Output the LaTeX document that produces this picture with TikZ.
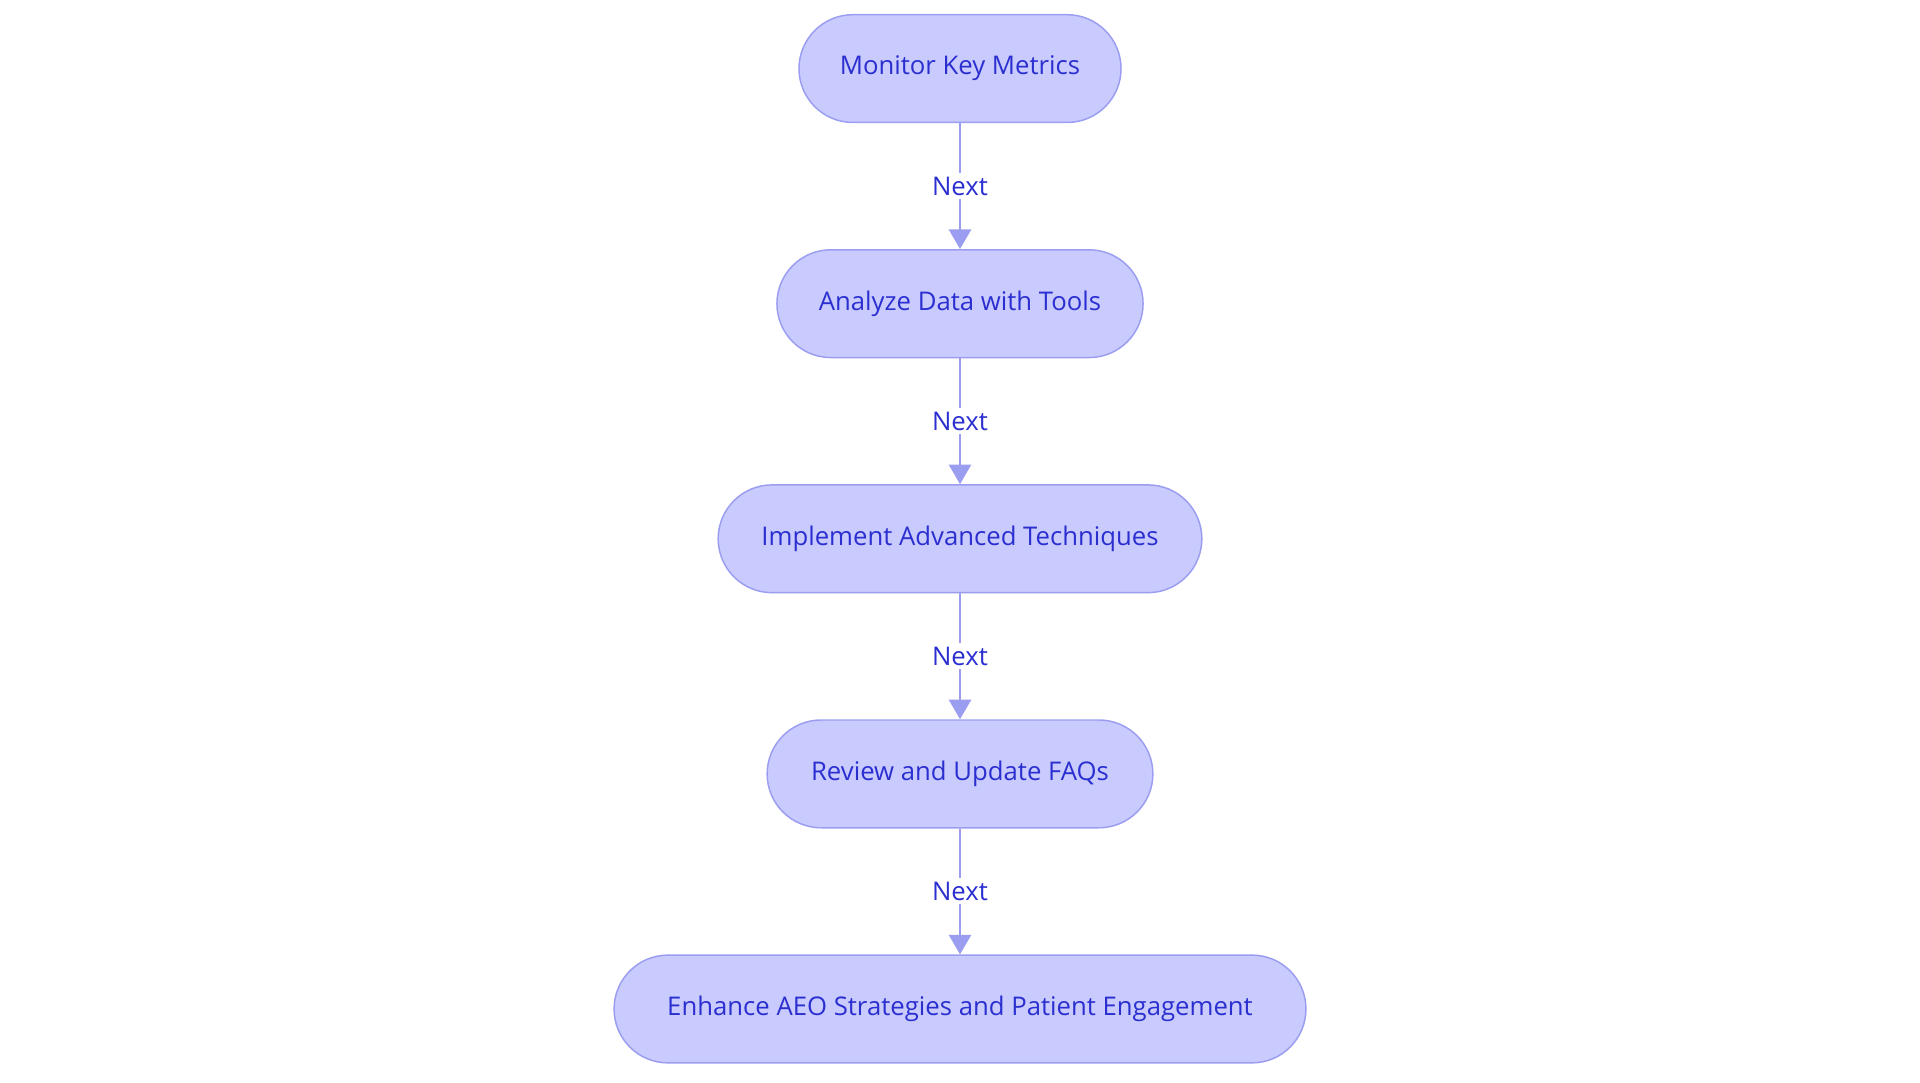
\documentclass[tikz,border=0pt]{standalone}
\usepackage{fontspec}
\setmainfont{Open Sans}
\usetikzlibrary{arrows.meta}
\definecolor{boxfill}{HTML}{C9CBFE}
\definecolor{boxline}{HTML}{9A9DF0}
\definecolor{txt}{HTML}{2B2FD0}
\begin{document}
\begin{tikzpicture}[x=1pt,y=1pt,
  stage/.style={draw=boxline, fill=boxfill, text=txt, rounded corners=22pt,
    minimum height=44pt, inner sep=0pt, font=\fontsize{10.5}{12}\selectfont, line width=0.6pt},
  flow/.style={draw=boxline, line width=1.1pt, -{Triangle[length=8pt,width=9pt]}},
  lbl/.style={fill=white, text=txt, font=\fontsize{10.5}{12}\selectfont, inner sep=1.5pt}
  ]
  \useasboundingbox (0,0) rectangle (784,-442);
  \node[stage, minimum width=131.5pt] (a) at (392,-28)  {Monitor Key Metrics};
  \node[stage, minimum width=149.5pt] (b) at (392,-124) {Analyze Data with Tools};
  \node[stage, minimum width=197.5pt] (c) at (392,-220) {Implement Advanced Techniques};
  \node[stage, minimum width=157.5pt] (d) at (392,-316) {Review and Update FAQs};
  \node[stage, minimum width=282.5pt] (e) at (392,-412) {Enhance AEO Strategies and Patient Engagement};
  \draw[flow] (a) -- node[lbl] {Next} (b);
  \draw[flow] (b) -- node[lbl] {Next} (c);
  \draw[flow] (c) -- node[lbl] {Next} (d);
  \draw[flow] (d) -- node[lbl] {Next} (e);
\end{tikzpicture}
\end{document}
